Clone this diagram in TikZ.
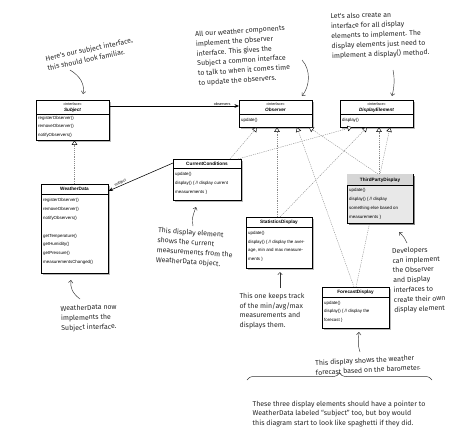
\documentclass[tikz,border=0pt]{standalone}
\usepackage{fontspec}
\setmainfont{Liberation Sans}
\newfontfamily\hand{Fira Sans}
\usetikzlibrary{arrows.meta,shadows,decorations.pathreplacing,calc}
\begin{document}
\begin{tikzpicture}[x=1pt,y=-1pt,
  umlbox/.style={draw=black, line width=0.5pt, fill=white, inner sep=0pt, anchor=north west,
     drop shadow={shadow xshift=1.6pt, shadow yshift=-1.6pt, fill=black!50, opacity=0.55}},
  mtxt/.style={font=\fontsize{4.4}{5}\selectfont, anchor=west, inner sep=0pt},
  ctitle/.style={font=\bfseries\fontsize{4.7}{5}\selectfont, inner sep=0pt},
  ititle/.style={font=\bfseries\itshape\fontsize{4.7}{5}\selectfont, inner sep=0pt},
  stereo/.style={font=\fontsize{3.7}{4}\selectfont, inner sep=0pt},
  note/.style={font=\hand\fontsize{7}{9.8}\selectfont, align=left, inner sep=0pt, text=black!85},
  real/.style={dash pattern=on 1.2pt off 1pt, black!45, line width=0.4pt,
     -{Triangle[length=4.5pt,width=5.5pt,fill=white,color=black,line width=0.45pt]}},
  assoc/.style={line width=0.55pt, -{Stealth[length=4.5pt,width=3.8pt]}},
  annot/.style={line width=0.45pt, black!80, -{Straight Barb[length=2.5pt,width=4.5pt]}},
  small/.style={font=\fontsize{3.8}{4}\selectfont, inner sep=0.6pt}
]
\useasboundingbox (0,0) rectangle (474,439);

% ---------- Subject ----------
\node[umlbox, minimum width=73pt, minimum height=40pt] (subj) at (36,100) {};
\draw[line width=0.4pt] (36,114) -- (109,114);
\node[stereo] (subjS) at (72.5,104) {<<interface>>};
\node[ititle] (subjT) at (72.5,110) {Subject};
\node[mtxt] (subj1) at (38,118) {registerObserver()};
\node[mtxt] (subj2) at (38,126.5) {removeObserver()};
\node[mtxt] (subj3) at (38,135) {notifyObservers()};

% ---------- Observer ----------
\node[umlbox, minimum width=73pt, minimum height=27pt] (obs) at (239,100) {};
\draw[line width=0.4pt] (239,114) -- (312,114);
\node[stereo] (obsS) at (275.5,104) {<<interface>>};
\node[ititle] (obsT) at (275.5,110) {Observer};
\node[mtxt] (obs1) at (241,120.5) {update()};

% ---------- DisplayElement ----------
\node[umlbox, minimum width=73pt, minimum height=27pt] (de) at (340,100) {};
\draw[line width=0.4pt] (340,114) -- (413,114);
\node[stereo] (deS) at (376.5,104) {<<interface>>};
\node[ititle] (deT) at (376.5,110) {DisplayElement};
\node[mtxt] (de1) at (342,120.5) {display()};

% ---------- WeatherData ----------
\node[umlbox, minimum width=67pt, minimum height=89pt] (wd) at (41,184) {};
\draw[line width=0.4pt] (41,194) -- (108,194);
\node[ctitle] (wdT) at (74.5,189) {WeatherData};
\node[mtxt] (wd1) at (43,200) {registerObserver()};
\node[mtxt] (wd2) at (43,209) {removeObserver()};
\node[mtxt] (wd3) at (43,218) {notifyObservers()};
\node[mtxt] (wd4) at (43,236) {getTemperature()};
\node[mtxt] (wd5) at (43,244.5) {getHumidity()};
\node[mtxt] (wd6) at (43,253) {getPressure()};
\node[mtxt] (wd7) at (43,262) {measurementsChanged()};

% ---------- CurrentConditions ----------
\node[umlbox, minimum width=68pt, minimum height=41pt] (cc) at (173,159) {};
\draw[line width=0.4pt] (173,168) -- (241,168);
\node[ctitle] (ccT) at (207,163.5) {CurrentConditions};
\node[mtxt] (cc1) at (175,174) {update()};
\node[mtxt] (cc2) at (175,183) {display() \{ // display current};
\node[mtxt] (cc3) at (175,192) {measurements \}};

% ---------- StatisticsDisplay ----------
\node[umlbox, minimum width=66pt, minimum height=51pt] (sd) at (246,217) {};
\draw[line width=0.4pt] (246,227) -- (312,227);
\node[ctitle] (sdT) at (279,222.5) {StatisticsDisplay};
\node[mtxt] (sd1) at (248,233) {update()};
\node[mtxt] (sd2) at (248,242) {display() \{ // display the aver-};
\node[mtxt] (sd3) at (248,250.5) {age, min and max measure-};
\node[mtxt] (sd4) at (248,259) {ments \}};

% ---------- ForecastDisplay ----------
\node[umlbox, minimum width=67pt, minimum height=41pt] (fd) at (322,287) {};
\draw[line width=0.4pt] (322,297) -- (389,297);
\node[ctitle] (fdT) at (355.5,292.5) {ForecastDisplay};
\node[mtxt] (fd1) at (324,303) {update()};
\node[mtxt] (fd2) at (324,311.5) {display() \{ // display the};
\node[mtxt] (fd3) at (324,320) {forecast \}};

% ---------- connectors ----------
\coordinate (oA) at (257,127.3);
\coordinate (oB) at (277,127.3);
\coordinate (oC) at (297,127.3);
\coordinate (oD) at (309,127.3);
\coordinate (dA) at (352,127.3);
\coordinate (dB) at (367,127.3);
\coordinate (dC) at (379,127.3);
\coordinate (dD) at (390,127.3);
\coordinate (ccA) at (230,159);
\coordinate (ccB) at (238,159);
\coordinate (sdA) at (277,217);
\coordinate (sdB) at (280,217);
\coordinate (fdA) at (354,287);
\coordinate (fdB) at (356,287);
\coordinate (tpA) at (378,174);
\coordinate (tpB) at (379,174);
\coordinate (wdA) at (74.5,184);
\coordinate (subjA) at (74.5,140.3);

\draw[real] (ccA) -- (oA);
\draw[real] (ccB) -- (dA);
\draw[real] (sdA) -- (oB);
\draw[real] (sdB) -- (dB);
\draw[real] (fdA) -- (oC);
\draw[real] (fdB) -- (dD);
\draw[real] (tpA) -- (oD);
\draw[real] (tpB) -- (dC);
\draw[real] (wdA) -- (subjA);

\draw[assoc] ($(subj.north east)+(0,6)$) -- node[small, above, pos=0.87] (lobs) {observers} ($(obs.north west)+(0,6)$);
\draw[assoc] ($(cc.north west)+(0,4)$) -- node[small, above, sloped, pos=0.8] (lsub) {subject} ($(wd.north east)+(0,7)$);

% ---------- ThirdPartyDisplay (drawn on top) ----------
\node[umlbox, fill=black!9, minimum width=66pt, minimum height=49pt,
   drop shadow={shadow xshift=2pt, shadow yshift=-2pt, fill=black!60, opacity=0.6}] (tp) at (347,174) {};
\fill[black!16] (347.25,174.25) rectangle (412.75,184.8);
\draw[line width=0.4pt] (347,185) -- (413,185);
\node[ctitle] (tpT) at (380,179.8) {ThirdPartyDisplay};
\node[mtxt] (tp1) at (349,190) {update()};
\node[mtxt] (tp2) at (349,199) {display() \{ // display};
\node[mtxt] (tp3) at (349,208) {something else based on};
\node[mtxt] (tp4) at (349,217) {measurements \}};

% ---------- annotations ----------
\node[note, rotate=12] (n1) at (90,54) {Here's our subject interface,\\this should look familiar.};
\node[note, rotate=4] (n2) at (243,56) {All our weather components\\implement the Observer\\interface. This gives the\\Subject a common interface\\to talk to when it comes time\\to update the observers.};
\node[note, rotate=2] (n3) at (380,35) {Let's also create an\\interface for all display\\elements to implement. The\\display elements just need to\\implement a display() method.};
\node[note, rotate=-4] (n4) at (195,248) {This display element\\shows the current\\measurements from the\\WeatherData object.};
\node[note, rotate=2] (n5) at (89,318) {WeatherData now\\implements the\\Subject interface.};
\node[note] (n6) at (272,311) {This one keeps track\\of the min/avg/max\\measurements and\\displays them.};
\node[note, rotate=2] (n7) at (419,280) {Developers\\can implement\\the Observer\\and Display\\interfaces to\\create their own\\display element};
\node[note, rotate=3] (n8) at (368,365) {This display shows the weather\\forecast based on the barometer.};
\node[note] (n9) at (339,414) {These three display elements should have a pointer to\\WeatherData labeled “subject” too, but boy would\\this diagram start to look like spaghetti if they did.};

\coordinate (a1s) at (70,70);  \coordinate (a1e) at (83,94);
\coordinate (a2s) at (302,60); \coordinate (a2e) at (302,96);
\coordinate (a3s) at (393,70); \coordinate (a3e) at (392,96);
\coordinate (a4s) at (193,226); \coordinate (a4e) at (196,207);
\coordinate (a5s) at (80,299); \coordinate (a5e) at (71,280);
\coordinate (a6s) at (280,288); \coordinate (a6e) at (280,272);
\coordinate (a7s) at (407,243); \coordinate (a7e) at (399,232);
\coordinate (a8s) at (360,352); \coordinate (a8e) at (359,332);
\draw[annot] (a1s) .. controls (80,76) and (85,84) .. (a1e);
\draw[annot] (a2s) .. controls (311,70) and (310,86) .. (a2e);
\draw[annot] (a3s) .. controls (395,80) and (394,88) .. (a3e);
\draw[annot] (a4s) .. controls (192,218) .. (a4e);
\draw[annot] (a5s) .. controls (72,293) and (70,287) .. (a5e);
\draw[annot] (a6s) -- (a6e);
\draw[annot] (a7s) .. controls (404,237) .. (a7e);
\draw[annot] (a8s) .. controls (358,345) .. (a8e);

\coordinate (brL) at (247,380);
\coordinate (brR) at (432,380);
\draw[line width=0.5pt, black!80, decorate, decoration={brace, amplitude=7pt}] (brL) -- (brR);
\end{tikzpicture}
\end{document}
